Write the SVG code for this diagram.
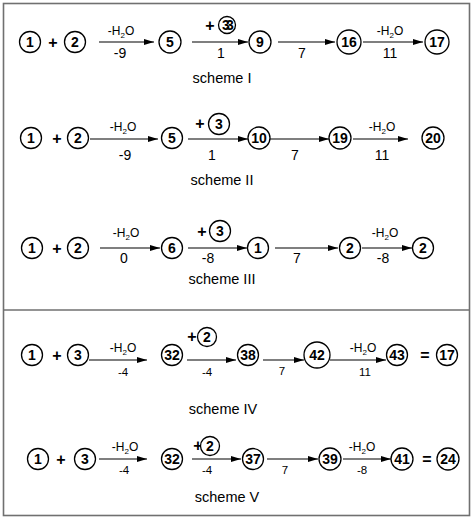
<svg xmlns="http://www.w3.org/2000/svg" width="474" height="520" viewBox="0 0 474 520">
<defs>
<style>
.c{fill:#fff;stroke:#000;stroke-width:1.3}
.n{font-family:"Liberation Sans",Arial,sans-serif;font-weight:bold;font-size:14px;text-anchor:middle}
.s{font-family:"Liberation Sans",Arial,sans-serif;font-size:14px;text-anchor:middle}
.t{font-family:"Liberation Sans",Arial,sans-serif;font-size:12px;text-anchor:middle}
.u{font-family:"Liberation Sans",Arial,sans-serif;font-size:11.5px;text-anchor:middle}
.p{font-family:"Liberation Sans",Arial,sans-serif;font-weight:bold;font-size:16px;text-anchor:middle}
.h{font-family:"Liberation Sans",Arial,sans-serif;font-size:14.5px;text-anchor:middle}
.a{stroke:#000;stroke-width:1.2;fill:none;marker-end:url(#ah)}
.f{fill:none;stroke:#707070;stroke-width:1.6}
</style>
<marker id="ah" markerUnits="userSpaceOnUse" markerWidth="10" markerHeight="6" refX="10" refY="3" orient="auto"><path d="M0,0 L10,3 L0,6 z" fill="#000"/></marker>
</defs>
<rect x="0" y="0" width="474" height="520" fill="#fff"/>
<rect class="f" x="3.5" y="3.5" width="466" height="512"/>
<line class="f" x1="3.5" y1="310" x2="469.5" y2="310"/>

<!-- connectors -->
<g id="connectors">
<line class="a" x1="99" y1="42" x2="154" y2="42"/>
<line class="a" x1="192" y1="42" x2="248" y2="42"/>
<line class="a" x1="278" y1="42" x2="335" y2="42"/>
<line class="a" x1="363" y1="42" x2="423" y2="42"/>

<line class="a" x1="90" y1="139" x2="158" y2="139"/>
<line class="a" x1="188" y1="139" x2="248" y2="139"/>
<line class="a" x1="270" y1="139" x2="329" y2="139"/>
<line class="a" x1="353" y1="139" x2="408" y2="139"/>

<line class="a" x1="100" y1="248" x2="160" y2="248"/>
<line class="a" x1="188" y1="248" x2="247" y2="248"/>
<line class="a" x1="275" y1="248" x2="338" y2="248"/>
<line class="a" x1="362" y1="248" x2="412" y2="248"/>

<line class="a" x1="89" y1="360" x2="147" y2="360"/>
<line class="a" x1="187" y1="360" x2="236" y2="360"/>
<line class="a" x1="263" y1="360" x2="304" y2="360"/>
<line class="a" x1="330" y1="360" x2="386" y2="360"/>

<line class="a" x1="99" y1="459" x2="147" y2="459"/>
<line class="a" x1="192" y1="459" x2="241" y2="459"/>
<line class="a" x1="267" y1="459" x2="318" y2="459"/>
<line class="a" x1="343" y1="459" x2="391" y2="459"/>
</g>

<!-- connector labels -->
<g id="labels">
<text class="t" x="121" y="35">-H<tspan font-size="8" dy="3">2</tspan><tspan dy="-3">O</tspan></text>
<text class="s" x="120" y="58">-9</text>
<text class="s" x="221" y="58">1</text>
<text class="s" x="302" y="58">7</text>
<text class="t" x="390" y="35">-H<tspan font-size="8" dy="3">2</tspan><tspan dy="-3">O</tspan></text>
<text class="s" x="390" y="58">11</text>
<text class="p" x="210" y="31">+</text>
<text class="p" x="53" y="48">+</text>

<text class="t" x="123" y="131">-H<tspan font-size="8" dy="3">2</tspan><tspan dy="-3">O</tspan></text>
<text class="s" x="125" y="160">-9</text>
<text class="s" x="212" y="160">1</text>
<text class="s" x="295" y="160">7</text>
<text class="t" x="382" y="131">-H<tspan font-size="8" dy="3">2</tspan><tspan dy="-3">O</tspan></text>
<text class="s" x="382" y="160">11</text>
<text class="p" x="200" y="129">+</text>
<text class="p" x="57" y="144">+</text>

<text class="t" x="126" y="237">-H<tspan font-size="8" dy="3">2</tspan><tspan dy="-3">O</tspan></text>
<text class="s" x="124" y="263">0</text>
<text class="s" x="208" y="263">-8</text>
<text class="s" x="297" y="263">7</text>
<text class="t" x="385" y="237">-H<tspan font-size="8" dy="3">2</tspan><tspan dy="-3">O</tspan></text>
<text class="s" x="383" y="263">-8</text>
<text class="p" x="202" y="237">+</text>
<text class="p" x="57" y="254">+</text>

<text class="t" x="123" y="352">-H<tspan font-size="8" dy="3">2</tspan><tspan dy="-3">O</tspan></text>
<text class="u" x="123" y="376">-4</text>
<text class="u" x="207" y="376">-4</text>
<text class="u" x="282" y="375">7</text>
<text class="t" x="363" y="352">-H<tspan font-size="8" dy="3">2</tspan><tspan dy="-3">O</tspan></text>
<text class="u" x="365" y="376">11</text>
<text class="p" x="192" y="342">+</text>
<text class="p" x="57" y="361">+</text>
<text class="p" x="425" y="361">=</text>

<text class="t" x="125" y="451">-H<tspan font-size="8" dy="3">2</tspan><tspan dy="-3">O</tspan></text>
<text class="u" x="124" y="474">-4</text>
<text class="u" x="207" y="474">-4</text>
<text class="u" x="285" y="474">7</text>
<text class="t" x="362" y="451">-H<tspan font-size="8" dy="3">2</tspan><tspan dy="-3">O</tspan></text>
<text class="u" x="362" y="474">-8</text>
<text class="p" x="198" y="451">+</text>
<text class="p" x="61" y="465">+</text>
<text class="p" x="427" y="465">=</text>

<text class="h" x="222" y="83">scheme I</text>
<text class="h" x="222" y="185">scheme II</text>
<text class="h" x="222" y="284">scheme III</text>
<text class="h" x="223" y="414">scheme IV</text>
<text class="h" x="227" y="502">scheme V</text>
</g>

<!-- scheme I nodes -->
<g id="s1-n1"><circle class="c" cx="30" cy="42" r="10.5"/><text class="n" x="30" y="47">1</text></g>
<g id="s1-n2"><circle class="c" cx="75" cy="42" r="10.5"/><text class="n" x="75" y="47">2</text></g>
<g id="s1-n5"><circle class="c" cx="170" cy="42" r="11"/><text class="n" x="170" y="47">5</text></g>
<g id="s1-n3"><circle class="c" cx="227" cy="25" r="8.5"/><text class="n" x="226" y="30" font-size="13" font-weight="normal" letter-spacing="-3.8">33</text></g>
<g id="s1-n9"><circle class="c" cx="260" cy="42" r="11"/><text class="n" x="260" y="47">9</text></g>
<g id="s1-n16"><circle class="c" cx="349" cy="42" r="12"/><text class="n" x="349" y="47">16</text></g>
<g id="s1-n17"><circle class="c" cx="437" cy="42" r="12"/><text class="n" x="437" y="47">17</text></g>

<!-- scheme II nodes -->
<g id="s2-n1"><circle class="c" cx="31" cy="138" r="10.5"/><text class="n" x="31" y="143">1</text></g>
<g id="s2-n2"><circle class="c" cx="78" cy="138" r="10.5"/><text class="n" x="78" y="143">2</text></g>
<g id="s2-n5"><circle class="c" cx="172" cy="138" r="10.5"/><text class="n" x="172" y="143">5</text></g>
<g id="s2-n3"><circle class="c" cx="219" cy="124" r="10.5"/><text class="n" x="219" y="129">3</text></g>
<g id="s2-n10"><circle class="c" cx="259" cy="138" r="11"/><text class="n" x="259" y="143">10</text></g>
<g id="s2-n19"><circle class="c" cx="340" cy="138" r="11"/><text class="n" x="340" y="143">19</text></g>
<g id="s2-n20"><circle class="c" cx="433" cy="138" r="11"/><text class="n" x="433" y="143">20</text></g>

<!-- scheme III nodes -->
<g id="s3-n1"><circle class="c" cx="32" cy="248" r="10.5"/><text class="n" x="32" y="253">1</text></g>
<g id="s3-n2"><circle class="c" cx="78" cy="248" r="10.5"/><text class="n" x="78" y="253">2</text></g>
<g id="s3-n6"><circle class="c" cx="172" cy="248" r="10.5"/><text class="n" x="172" y="253">6</text></g>
<g id="s3-n3"><circle class="c" cx="220" cy="231" r="10.5"/><text class="n" x="220" y="236">3</text></g>
<g id="s3-n1b"><circle class="c" cx="258" cy="248" r="10.5"/><text class="n" x="258" y="253">1</text></g>
<g id="s3-n2b"><circle class="c" cx="350" cy="248" r="10.5"/><text class="n" x="350" y="253">2</text></g>
<g id="s3-n2c"><circle class="c" cx="423" cy="248" r="10.5"/><text class="n" x="423" y="253">2</text></g>

<!-- scheme IV nodes -->
<g id="s4-n1"><circle class="c" cx="32" cy="355" r="10.5"/><text class="n" x="32" y="360">1</text></g>
<g id="s4-n3"><circle class="c" cx="78" cy="355" r="10.5"/><text class="n" x="78" y="360">3</text></g>
<g id="s4-n32"><circle class="c" cx="172" cy="355" r="10.5"/><text class="n" x="172" y="360">32</text></g>
<g id="s4-n2"><circle class="c" cx="207" cy="337" r="9.5"/><text class="n" x="207" y="342">2</text></g>
<g id="s4-n38"><circle class="c" cx="248" cy="355" r="10.5"/><text class="n" x="248" y="360">38</text></g>
<g id="s4-n42"><circle class="c" cx="317" cy="355" r="13"/><text class="n" x="317" y="360">42</text></g>
<g id="s4-n43"><circle class="c" cx="397" cy="355" r="10.5"/><text class="n" x="397" y="360">43</text></g>
<g id="s4-n17"><circle class="c" cx="447" cy="355" r="10.5"/><text class="n" x="447" y="360">17</text></g>

<!-- scheme V nodes -->
<g id="s5-n1"><circle class="c" cx="38" cy="459" r="10.5"/><text class="n" x="38" y="464">1</text></g>
<g id="s5-n3"><circle class="c" cx="85" cy="459" r="10.5"/><text class="n" x="85" y="464">3</text></g>
<g id="s5-n32"><circle class="c" cx="172" cy="459" r="10.5"/><text class="n" x="172" y="464">32</text></g>
<g id="s5-n2"><circle class="c" cx="210" cy="446" r="9.5"/><text class="n" x="210" y="451">2</text></g>
<g id="s5-n37"><circle class="c" cx="253" cy="459" r="10.5"/><text class="n" x="253" y="464">37</text></g>
<g id="s5-n39"><circle class="c" cx="330" cy="459" r="11"/><text class="n" x="330" y="464">39</text></g>
<g id="s5-n41"><circle class="c" cx="402" cy="459" r="11"/><text class="n" x="402" y="464">41</text></g>
<g id="s5-n24"><circle class="c" cx="448" cy="459" r="11"/><text class="n" x="448" y="464">24</text></g>
</svg>
